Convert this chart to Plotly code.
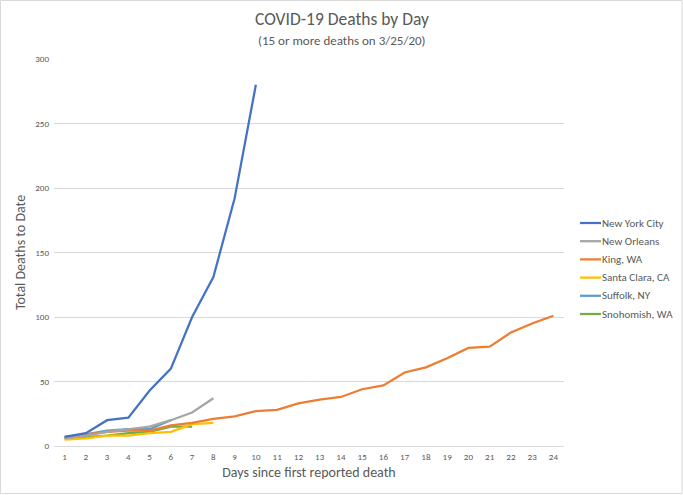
import plotly.graph_objects as go

days = list(range(1, 25))
tick_labels = [str(d) for d in days]

nyc = [7, 10, 20, 22, 43, 60, 100, 131, 192, 280]
new_orleans = [6, 8, 11, 13, 15, 20, 26, 37]
king_wa = [6, 9, 11, 12, 12, 16, 18, 21, 23, 27, 28, 33, 36, 38, 44, 47, 57, 61, 68, 76, 77, 88, 95, 101]
santa_clara = [5, 6, 8, 8, 10, 11, 17, 18]
suffolk = [7, 9, 12, 13, 13, 20]
snohomish = [6, 7, 8, 10, 11, 15, 15]

series = [
    ("New York City", nyc, "#4472C4"),
    ("New Orleans", new_orleans, "#A5A5A5"),
    ("King, WA", king_wa, "#ED7D31"),
    ("Santa Clara, CA", santa_clara, "#FFC000"),
    ("Suffolk, NY", suffolk, "#5B9BD5"),
    ("Snohomish, WA", snohomish, "#70AD47"),
]

FONT = "Carlito, Calibri, Lato, sans-serif"
GREY = "#595959"

W, H = 683, 495
ml, mr, mt, mb = 54, 119, 59, 49
pw = W - ml - mr
ph = H - mt - mb


def px_x(x):
    return (x - ml) / pw


def px_y(y):
    return (H - mb - y) / ph


fig = go.Figure()
for name, vals, color in reversed(series):
    fig.add_trace(go.Scatter(
        x=days[:len(vals)], y=vals, mode="lines", name=name,
        line=dict(color=color, width=2.25), showlegend=False,
    ))

shapes = [dict(
    type="rect", xref="paper", yref="paper",
    x0=px_x(0.5), x1=px_x(682), y0=px_y(493.5), y1=px_y(0.5),
    line=dict(color="#D9D9D9", width=1), fillcolor="rgba(0,0,0,0)", layer="below",
)]
annotations = [
    dict(text="COVID-19 Deaths by Day", xref="paper", yref="paper",
         x=px_x(341.5), y=px_y(19), xanchor="center", yanchor="middle",
         showarrow=False, font=dict(size=17.5, color=GREY, family=FONT)),
    dict(text="(15 or more deaths on 3/25/20)", xref="paper", yref="paper",
         x=px_x(341.5), y=px_y(40), xanchor="center", yanchor="middle",
         showarrow=False, font=dict(size=13, color=GREY, family=FONT)),
]

# legend
leg_y0, leg_dy = 223, 18.2
for i, (name, vals, color) in enumerate(series):
    yy = leg_y0 + i * leg_dy
    shapes.append(dict(type="line", xref="paper", yref="paper",
                       x0=px_x(580), x1=px_x(601), y0=px_y(yy), y1=px_y(yy),
                       line=dict(color=color, width=2.25)))
    annotations.append(dict(text=name, xref="paper", yref="paper",
                            x=px_x(600), y=px_y(yy), xanchor="left", yanchor="middle",
                            showarrow=False, font=dict(size=11, color=GREY, family=FONT)))

fig.update_layout(
    width=W, height=H,
    margin=dict(l=ml, r=mr, t=mt, b=mb),
    paper_bgcolor="white", plot_bgcolor="white",
    font=dict(family=FONT, color=GREY),
    showlegend=False,
    xaxis=dict(
        range=[0.5, 24.5], tickmode="array", tickvals=days, ticktext=tick_labels,
        showgrid=False, zeroline=False, showline=False,
        tickfont=dict(size=9, color=GREY),
        ticks="", ticklen=0, ticklabelstandoff=4,
        title=dict(text="Days since first reported death", font=dict(size=14, color=GREY), standoff=6),
    ),
    yaxis=dict(
        range=[0, 300], tickvals=[0, 50, 100, 150, 200, 250, 300],
        showgrid=True, gridcolor="#D9D9D9", gridwidth=1,
        zeroline=True, zerolinecolor="#D9D9D9", zerolinewidth=1,
        showline=False, ticks="", ticklabelstandoff=4,
        tickfont=dict(size=9, color=GREY),
        title=dict(text="Total Deaths to Date", font=dict(size=14, color=GREY), standoff=6),
    ),
    shapes=shapes,
    annotations=annotations,
)

fig.write_html("out.html")
